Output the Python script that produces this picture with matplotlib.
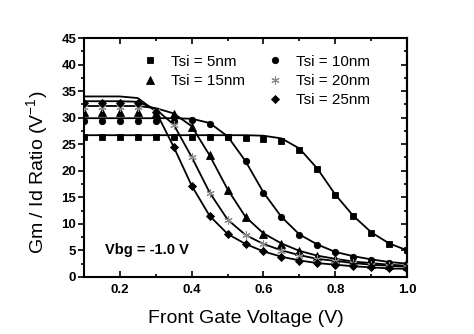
import numpy as np
import matplotlib.pyplot as plt
from matplotlib.lines import Line2D
from matplotlib.ticker import MultipleLocator

plt.rcParams['font.family'] = ['Liberation Sans', 'DejaVu Sans']
plt.rcParams['mathtext.fontset'] = 'custom'
plt.rcParams['mathtext.rm'] = 'Liberation Sans'

# =====================================
# Data
# =====================================

vfg = [0.10, 0.15, 0.20, 0.25, 0.30, 0.35, 0.40, 0.45, 0.50, 0.55,
       0.60, 0.65, 0.70, 0.75, 0.80, 0.85, 0.90, 0.95, 1.00]

# measured points
tsi_5 = [26.3, 26.3, 26.3, 26.3, 26.3, 26.3, 26.3, 26.3, 26.3, 26.1,
         26.0, 25.6, 23.9, 20.3, 15.4, 11.4, 8.3, 6.2, 5.0]
tsi_10 = [29.4, 29.4, 29.4, 29.4, 29.4, 29.4, 29.5, 28.9, 26.4, 21.8,
          15.8, 11.2, 7.9, 6.0, 4.6, 3.8, 3.2, 2.7, 2.4]
tsi_15 = [31.1, 31.1, 31.1, 31.1, 30.9, 30.6, 28.3, 22.9, 16.4, 11.2,
          8.1, 6.2, 4.8, 3.9, 3.3, 2.9, 2.5, 2.2, 2.0]
tsi_20 = [32.0, 32.0, 32.0, 32.0, 31.2, 28.6, 22.6, 15.8, 10.7, 7.8,
          6.2, 4.9, 4.0, 3.4, 2.9, 2.6, 2.3, 2.1, 1.9]
tsi_25 = [32.8, 32.8, 32.8, 32.8, 31.0, 24.4, 17.1, 11.4, 8.0, 6.2,
          4.8, 3.7, 3.0, 2.6, 2.3, 2.0, 1.8, 1.6, 1.5]

# model curves
fit_5 = [26.7, 26.7, 26.7, 26.7, 26.7, 26.7, 26.7, 26.7, 26.7, 26.7,
         26.6, 26.1, 24.2, 20.4, 15.5, 11.5, 8.4, 6.3, 5.0]
fit_10 = [29.9, 29.9, 29.9, 29.9, 29.9, 29.9, 29.8, 29.0, 26.5, 21.8,
          15.9, 11.3, 8.0, 6.1, 4.7, 3.9, 3.3, 2.8, 2.5]
fit_15 = [32.2, 32.2, 32.2, 32.2, 31.8, 30.8, 28.4, 22.9, 16.5, 11.3,
          8.2, 6.3, 4.9, 4.0, 3.4, 2.9, 2.6, 2.3, 2.1]
fit_20 = [33.1, 33.1, 33.1, 33.0, 31.6, 28.7, 22.6, 15.9, 10.8, 7.9,
          6.2, 5.0, 4.1, 3.4, 3.0, 2.6, 2.3, 2.1, 1.9]
fit_25 = [34.0, 34.0, 34.0, 33.7, 31.2, 24.5, 17.2, 11.5, 8.1, 6.2,
          4.8, 3.8, 3.1, 2.6, 2.3, 2.0, 1.8, 1.6, 1.5]

labels = ["Tsi = 5nm", "Tsi = 10nm", "Tsi = 15nm", "Tsi = 20nm", "Tsi = 25nm"]

# =====================================
# Plot
# =====================================

fig = plt.figure(figsize=(4.74, 3.34), dpi=100)
ax = fig.add_axes([0.177, 0.171, 0.682, 0.715])

asterisk = (6, 2, 0)
styles = [
    (tsi_5, fit_5, "s", "black", 4.2, 0.6),
    (tsi_10, fit_10, "o", "black", 4.6, 0.6),
    (tsi_15, fit_15, "^", "black", 5.2, 0.6),
    (tsi_20, fit_20, asterisk, "#8a8a8a", 6.0, 0.8),
    (tsi_25, fit_25, "D", "black", 4.2, 0.6),
]

handles = []
for (pts, fit, mk, col, ms, mew), lab in zip(styles, labels):
    ax.plot(vfg, fit, "-", color="black", lw=1.3, zorder=2)
    ax.plot(vfg, pts, ls="none", marker=mk, color=col, ms=ms, mec=col,
            mew=mew, zorder=3)
    handles.append(Line2D([], [], ls="none", marker=mk, color=col,
                          ms=ms, mec=col, mew=mew, label=lab))

ax.set_xlim(0.1, 1.0)
ax.set_ylim(0, 45)
ax.xaxis.set_minor_locator(MultipleLocator(0.1))
ax.yaxis.set_major_locator(MultipleLocator(5))
ax.yaxis.set_minor_locator(MultipleLocator(2.5))
ax.set_xticks([0.2, 0.4, 0.6, 0.8, 1.0])
ax.set_xticklabels(["0.2", "0.4", "0.6", "0.8", "1.0"])

for sp in ax.spines.values():
    sp.set_linewidth(1.5)

ax.tick_params(axis="x", which="both", direction="in", top=True,
               labelsize=9.5, pad=5, width=1.2)
ax.tick_params(axis="y", which="both", direction="out", labelsize=9.5,
               pad=1.5, width=1.2)
ax.tick_params(which="major", length=4)
ax.tick_params(which="minor", length=2.5)
for lab in ax.get_xticklabels() + ax.get_yticklabels():
    lab.set_fontweight("bold")

# right axis: inward ticks, no labels
sec = ax.secondary_yaxis("right")
sec.yaxis.set_major_locator(MultipleLocator(5))
sec.yaxis.set_minor_locator(MultipleLocator(2.5))
sec.tick_params(which="both", direction="in", labelright=False, width=1.2)
sec.tick_params(which="major", length=4)
sec.tick_params(which="minor", length=2.5)
sec.spines["right"].set_linewidth(1.5)

ax.set_xlabel("Front Gate Voltage (V)", fontsize=14, labelpad=10)
fig.text(0.08, 0.485, "Gm / Id Ratio (V$^{-1}$)", fontsize=14,
         rotation=90, ha="center", va="center")

leg_kw = dict(loc="upper left", frameon=False, fontsize=11,
              handletextpad=0.6, labelspacing=0.35, handlelength=1.5,
              borderaxespad=0, borderpad=0)
leg1 = ax.legend(handles=[handles[0], handles[2]],
                 bbox_to_anchor=(0.169, 0.93), **leg_kw)
ax.add_artist(leg1)
ax.legend(handles=[handles[1], handles[3], handles[4]],
          bbox_to_anchor=(0.556, 0.93), **leg_kw)

ax.text(0.065, 0.113, "Vbg = -1.0 V", transform=ax.transAxes,
        fontsize=10.5, fontweight="bold", ha="left", va="center")

plt.savefig("out.png", dpi=100)
